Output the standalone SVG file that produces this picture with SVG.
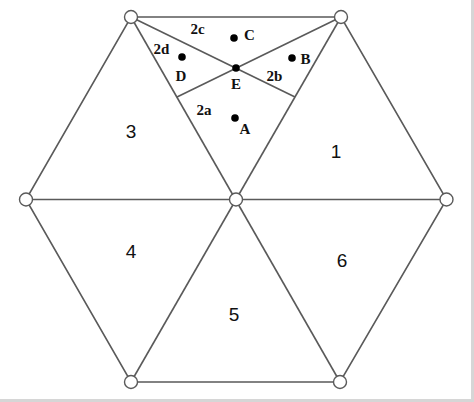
<svg xmlns="http://www.w3.org/2000/svg" width="474" height="402" viewBox="0 0 474 402">
<style>
.e{stroke:#5a5a5a;stroke-width:1.6;fill:none}
.v{fill:#fff;stroke:#5a5a5a;stroke-width:1.4}
.d{fill:#000}
.lb{font-family:"Liberation Serif",serif;font-weight:bold;font-size:15px;fill:#111}
.n{font-family:"Liberation Sans",Arial,sans-serif;font-size:19px;fill:#111;text-anchor:middle}
</style>
<rect x="0" y="0" width="474" height="402" fill="#fff"/>
<line x1="472.5" y1="0" x2="472.5" y2="402" stroke="#d6d6d6" stroke-width="3"/>
<line x1="0" y1="400.5" x2="474" y2="400.5" stroke="#d6d6d6" stroke-width="3"/>
<g id="connectors" class="e">
<polygon points="131,17 341,17 446.5,199.5 340,382 131,382 26,199.5"/>
<line x1="131" y1="17" x2="340" y2="382"/>
<line x1="341" y1="17" x2="131" y2="382"/>
<line x1="26" y1="199.5" x2="446.5" y2="199.5"/>
<line x1="131" y1="17" x2="295" y2="97"/>
<line x1="341" y1="17" x2="177" y2="97"/>
</g>
<g id="v-top-left"><circle class="v" cx="131" cy="17" r="6.5"/></g>
<g id="v-top-right"><circle class="v" cx="341" cy="17" r="6.5"/></g>
<g id="v-left"><circle class="v" cx="26" cy="199.5" r="6.5"/></g>
<g id="v-center"><circle class="v" cx="236" cy="199.5" r="6.5"/></g>
<g id="v-right"><circle class="v" cx="446.5" cy="199.5" r="6.5"/></g>
<g id="v-bottom-left"><circle class="v" cx="131" cy="382" r="6.5"/></g>
<g id="v-bottom-right"><circle class="v" cx="340" cy="382" r="6.5"/></g>
<g id="pt-C"><circle class="d" cx="234" cy="38" r="3.8"/><text class="lb" x="244" y="39.5">C</text></g>
<g id="pt-B"><circle class="d" cx="292" cy="58" r="3.8"/><text class="lb" x="300.5" y="63.5">B</text></g>
<g id="pt-D"><circle class="d" cx="182" cy="57" r="3.8"/><text class="lb" x="175.5" y="80.5">D</text></g>
<g id="pt-E"><circle class="d" cx="236" cy="68" r="3.8"/><text class="lb" x="231" y="88.5">E</text></g>
<g id="pt-A"><circle class="d" cx="235" cy="118" r="3.8"/><text class="lb" x="239.5" y="133.5">A</text></g>
<g id="region-2c"><text class="lb" x="190.5" y="34">2c</text></g>
<g id="region-2d"><text class="lb" x="153.5" y="54">2d</text></g>
<g id="region-2b"><text class="lb" x="266.5" y="81">2b</text></g>
<g id="region-2a"><text class="lb" x="196.5" y="115">2a</text></g>
<g id="region-1"><text class="n" x="336" y="158">1</text></g>
<g id="region-3"><text class="n" x="131" y="138">3</text></g>
<g id="region-4"><text class="n" x="131" y="258">4</text></g>
<g id="region-5"><text class="n" x="234" y="321">5</text></g>
<g id="region-6"><text class="n" x="342" y="267">6</text></g>
</svg>
